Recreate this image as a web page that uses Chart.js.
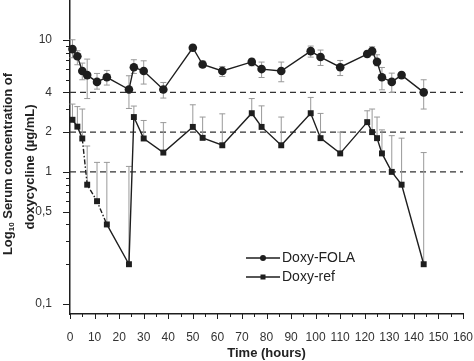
<!DOCTYPE html>
<html lang="en">
<head>
<meta charset="UTF-8">
<title>Serum concentration of doxycycline</title>
<script src="https://cdn.jsdelivr.net/npm/chart.js"></script>
<style>
    body { margin: 0; background: #fff; }
    #wrap { position: relative; width: 474px; height: 361px; }
</style>
</head>
<body>
<div id="wrap"><canvas id="chart"></canvas></div>
<script>
    // sampling times (hours)
    const hours = [1, 3, 5, 7, 11, 15, 24, 26, 30, 38, 50, 54, 62, 74, 78, 86, 98, 102, 110, 121, 123, 125, 127, 131, 135, 144];

    // Doxy-FOLA mean and error bar ends
    const folaMean = [8.5, 7.5, 5.8, 5.4, 4.8, 5.2, 4.2, 6.2, 5.8, 4.2, 8.7, 6.5, 5.8, 6.8, 6.0, 5.8, 8.2, 7.4, 6.2, 7.8, 8.2, 6.8, 5.2, 4.8, 5.4, 4.0];
    const folaHigh = [10.0, 8.25, 6.66, 7.14, 5.56, 5.86, 5.34, 7.06, 6.93, 4.75, 9.1, 6.9, 6.28, 7.14, 6.78, 6.78, 8.96, 8.36, 6.97, 8.2, 8.85, 7.7, 6.17, 5.59, 5.66, 4.98];
    const folaLow  = [7.31, 6.47, 4.98, 3.59, 4.23, 4.54, 3.02, 5.56, 4.62, 3.62, 8.3, 6.2, 5.27, 6.36, 5.18, 4.81, 7.39, 6.39, 5.36, 7.4, 7.7, 6.36, 4.18, 3.99, 5.15, 2.99];

    // Doxy-ref mean and upper error bar end
    const refMean = [2.48, 2.2, 1.79, 0.80, 0.60, 0.40, 0.20, 2.6, 1.79, 1.40, 2.19, 1.81, 1.59, 2.78, 2.19, 1.59, 2.78, 1.80, 1.38, 2.38, 2.0, 1.8, 1.38, 1.0, 0.80, 0.20];
    const refHigh = [3.26, 3.12, 2.99, 1.57, 1.18, 1.18, 1.10, 3.15, 2.45, 2.36, 3.22, 2.60, 2.75, 3.59, 3.16, 2.60, 3.66, 2.77, 2.0, 2.90, 2.99, 2.60, 2.08, 1.88, 1.80, 1.40];

    const dashedLevels = [4, 2, 1];
    const yTickValues = [0.1, 0.2, 0.3, 0.4, 0.5, 0.6, 0.7, 0.8, 0.9, 1, 2, 3, 4, 5, 6, 7, 8, 9, 10];
    const yTickLabels = { 10: '10', 4: '4', 2: '2', 1: '1', 0.5: '0,5', 0.1: '0,1' };
    const xMax = 160;

    const font = "'Liberation Sans', Arial, sans-serif";
    const ink = '#1e1e1e';

    const noPad = s => { s.paddingTop = 0; s.paddingBottom = 0; s.paddingLeft = 0; s.paddingRight = 0; };

    const decor = {
        id: 'decor',
        beforeDatasetsDraw(chart) {
            const { ctx, scales: { x, y } } = chart;
            ctx.save();
            // dashed reference levels
            ctx.strokeStyle = '#333';
            ctx.lineWidth = 1.2;
            ctx.setLineDash([6, 4]);
            dashedLevels.forEach(v => {
                const py = y.getPixelForValue(v);
                ctx.beginPath();
                ctx.moveTo(x.getPixelForValue(0), py);
                ctx.lineTo(x.getPixelForValue(xMax), py);
                ctx.stroke();
            });
            ctx.setLineDash([]);

            // error bars
            ctx.strokeStyle = '#999';
            ctx.lineWidth = 1;
            const cap = (px, py) => {
                ctx.beginPath(); ctx.moveTo(px - 3, py); ctx.lineTo(px + 3, py); ctx.stroke();
            };
            hours.forEach((t, i) => {
                const px = x.getPixelForValue(t);
                const top = y.getPixelForValue(folaHigh[i]);
                const bot = y.getPixelForValue(folaLow[i]);
                ctx.beginPath(); ctx.moveTo(px, top); ctx.lineTo(px, bot); ctx.stroke();
                cap(px, top); cap(px, bot);

                const rTop = y.getPixelForValue(refHigh[i]);
                const rMid = y.getPixelForValue(refMean[i]);
                ctx.beginPath(); ctx.moveTo(px, rTop); ctx.lineTo(px, rMid); ctx.stroke();
                cap(px, rTop);
            });
            ctx.restore();
        },
        afterDraw(chart) {
            const { ctx, scales: { x, y } } = chart;
            ctx.save();
            ctx.strokeStyle = ink;
            ctx.lineWidth = 1;

            // tick marks
            const ax = x.left, ay = y.bottom;
            yTickValues.forEach(v => {
                const py = Math.round(y.getPixelForValue(v)) + 0.5;
                const len = yTickLabels[v] ? 7 : 4;
                ctx.beginPath(); ctx.moveTo(ax - len, py); ctx.lineTo(ax, py); ctx.stroke();
            });
            for (let t = 0; t <= xMax; t += 5) {
                const px = Math.round(x.getPixelForValue(t)) + 0.5;
                const len = t % 10 === 0 ? 5 : 3;
                ctx.beginPath(); ctx.moveTo(px, ay); ctx.lineTo(px, ay + len); ctx.stroke();
            }

            // legend
            const rows = [{ label: 'Doxy-FOLA', y: 258, shape: 'circle' }, { label: 'Doxy-ref', y: 277, shape: 'rect' }];
            ctx.font = `14px ${font}`;
            ctx.textBaseline = 'middle';
            ctx.textAlign = 'left';
            rows.forEach(r => {
                ctx.strokeStyle = ink;
                ctx.lineWidth = 1.4;
                ctx.beginPath(); ctx.moveTo(246, r.y); ctx.lineTo(280, r.y); ctx.stroke();
                ctx.fillStyle = ink;
                if (r.shape === 'circle') {
                    ctx.beginPath(); ctx.arc(263, r.y, 3, 0, Math.PI * 2); ctx.fill();
                } else {
                    ctx.fillRect(260.5, r.y - 2.5, 5, 5);
                }
                ctx.fillStyle = '#222';
                ctx.fillText(r.label, 282, r.y + 0.5);
            });

            // y axis title, two rotated lines, with subscript
            const bold = `bold 13px ${font}`;
            const small = `bold 8px ${font}`;
            ctx.fillStyle = '#222';
            ctx.textBaseline = 'middle';
            ctx.save();
            ctx.translate(8, 164);
            ctx.rotate(-Math.PI / 2);
            const parts = [['Log', bold, 0], ['10', small, 4], [' Serum concentration of', bold, 0]];
            let w = 0;
            parts.forEach(p => { ctx.font = p[1]; w += ctx.measureText(p[0]).width; });
            let cx = -w / 2;
            parts.forEach(p => {
                ctx.font = p[1];
                ctx.fillText(p[0], cx, p[2]);
                cx += ctx.measureText(p[0]).width;
            });
            ctx.restore();

            ctx.save();
            ctx.translate(30, 167);
            ctx.rotate(-Math.PI / 2);
            ctx.font = bold;
            ctx.textAlign = 'center';
            ctx.fillText('doxycycline (\u00b5g/mL)', 0, 0);
            ctx.restore();

            ctx.restore();
        }
    };

    new Chart(document.getElementById('chart'), {
        type: 'scatter',
        data: {
            datasets: [
                {
                    label: 'Doxy-FOLA',
                    data: hours.map((t, i) => ({ x: t, y: folaMean[i] })),
                    showLine: true,
                    borderColor: ink,
                    borderWidth: 1.4,
                    pointStyle: 'circle',
                    pointRadius: 4.3,
                    pointBackgroundColor: ink,
                    pointBorderWidth: 0,
                    clip: false
                },
                {
                    label: 'Doxy-ref',
                    data: hours.map((t, i) => ({ x: t, y: refMean[i] })),
                    showLine: true,
                    borderColor: ink,
                    borderWidth: 1.4,
                    pointStyle: 'rect',
                    pointRadius: 4.2,
                    pointBackgroundColor: ink,
                    pointBorderWidth: 0,
                    clip: false,
                    segment: {
                        borderDash: c => (c.p0DataIndex >= 2 && c.p0DataIndex <= 4) ? [5, 2, 1.5, 2] : undefined
                    }
                }
            ]
        },
        options: {
            responsive: true,
            maintainAspectRatio: false,
            animation: false,
            layout: { autoPadding: false, padding: { left: 0, right: 11, top: 0, bottom: 0 } },
            plugins: { legend: { display: false }, tooltip: { enabled: false } },
            scales: {
                x: {
                    type: 'linear',
                    min: 0,
                    max: xMax,
                    afterFit: s => { s.height = 47; noPad(s); },
                    grid: { display: false },
                    border: { display: true, color: ink, width: 1.5 },
                    ticks: {
                        stepSize: 10,
                        autoSkip: false,
                        maxRotation: 0,
                        padding: 8,
                        color: '#333',
                        font: { family: font, size: 12 }
                    },
                    title: {
                        display: true,
                        text: 'Time (hours)',
                        color: '#222',
                        padding: 0,
                        font: { family: font, size: 13, weight: 'bold' }
                    }
                },
                y: {
                    type: 'logarithmic',
                    min: 0.084,
                    max: 20,
                    afterFit: s => { s.width = 70; noPad(s); },
                    afterBuildTicks: s => { s.ticks = yTickValues.map(v => ({ value: v })); },
                    grid: { display: false },
                    border: { display: true, color: ink, width: 1.5 },
                    ticks: {
                        autoSkip: false,
                        padding: 10,
                        color: '#333',
                        font: { family: font, size: 12 },
                        callback: v => yTickLabels[v] || ''
                    }
                }
            }
        },
        plugins: [decor]
    });
</script>
</body>
</html>
